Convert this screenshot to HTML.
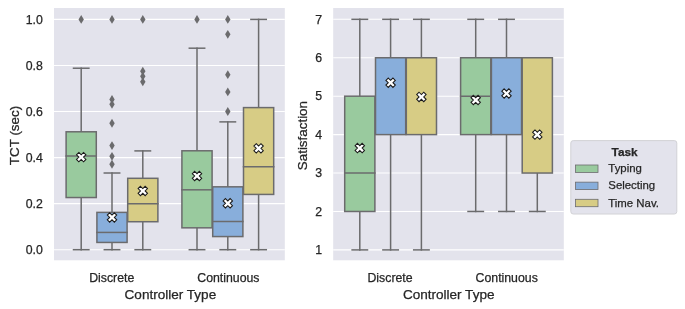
<!DOCTYPE html><html><head><meta charset="utf-8"><title>Boxplots</title><style>html,body{margin:0;padding:0;background:#fff}svg{display:block}svg text{font-family:"Liberation Sans",sans-serif;stroke:#262626;stroke-width:0.25px}</style></head><body><svg width="685" height="309" viewBox="0 0 685 309" font-size="12.3" fill="#262626">
<rect width="685" height="309" fill="#fff"/>
<rect x="54" y="8.0" width="230.8" height="252.3" fill="#E3E3EC"/>
<line x1="54" x2="284.8" y1="249.70" y2="249.70" stroke="#fff" stroke-width="1.1"/>
<text x="42.8" y="254.00" text-anchor="end">0.0</text>
<line x1="54" x2="284.8" y1="203.64" y2="203.64" stroke="#fff" stroke-width="1.1"/>
<text x="42.8" y="207.94" text-anchor="end">0.2</text>
<line x1="54" x2="284.8" y1="157.58" y2="157.58" stroke="#fff" stroke-width="1.1"/>
<text x="42.8" y="161.88" text-anchor="end">0.4</text>
<line x1="54" x2="284.8" y1="111.52" y2="111.52" stroke="#fff" stroke-width="1.1"/>
<text x="42.8" y="115.82" text-anchor="end">0.6</text>
<line x1="54" x2="284.8" y1="65.46" y2="65.46" stroke="#fff" stroke-width="1.1"/>
<text x="42.8" y="69.76" text-anchor="end">0.8</text>
<line x1="54" x2="284.8" y1="19.40" y2="19.40" stroke="#fff" stroke-width="1.1"/>
<text x="42.8" y="23.70" text-anchor="end">1.0</text>
<g stroke="#6b6b6d" stroke-width="1.5" fill="none" stroke-linecap="square">
<line x1="81.20" x2="81.20" y1="131.79" y2="68.22"/>
<line x1="73.50" x2="88.90" y1="68.22" y2="68.22"/>
<line x1="81.20" x2="81.20" y1="197.54" y2="249.70"/>
<line x1="73.50" x2="88.90" y1="249.70" y2="249.70"/>
<rect x="66.11" y="131.79" width="30.18" height="65.75" fill="#99CA9E"/>
<line x1="66.11" x2="96.29" y1="155.97" y2="155.97"/>
</g>
<path d="M81.20 15.00L83.90 19.40L81.20 23.80L78.50 19.40Z" fill="#6b6b6d"/>
<polygon points="78.85,152.42 81.20,154.77 83.55,152.42 85.90,154.77 83.55,157.12 85.90,159.47 83.55,161.82 81.20,159.47 78.85,161.82 76.50,159.47 78.85,157.12 76.50,154.77" fill="#fff" stroke="#1a1a1a" stroke-width="1.05" stroke-linejoin="miter"/>
<g stroke="#6b6b6d" stroke-width="1.5" fill="none" stroke-linecap="square">
<line x1="112.00" x2="112.00" y1="212.39" y2="173.01"/>
<line x1="104.30" x2="119.70" y1="173.01" y2="173.01"/>
<line x1="112.00" x2="112.00" y1="242.45" y2="249.70"/>
<line x1="104.30" x2="119.70" y1="249.70" y2="249.70"/>
<rect x="96.91" y="212.39" width="30.18" height="30.05" fill="#88AEDB"/>
<line x1="96.91" x2="127.09" y1="232.43" y2="232.43"/>
</g>
<path d="M112.00 15.00L114.70 19.40L112.00 23.80L109.30 19.40Z" fill="#6b6b6d"/>
<path d="M112.00 95.01L114.70 99.41L112.00 103.81L109.30 99.41Z" fill="#6b6b6d"/>
<path d="M112.00 99.91L114.70 104.31L112.00 108.71L109.30 104.31Z" fill="#6b6b6d"/>
<path d="M112.00 118.87L114.70 123.27L112.00 127.67L109.30 123.27Z" fill="#6b6b6d"/>
<path d="M112.00 141.20L114.70 145.60L112.00 150.00L109.30 145.60Z" fill="#6b6b6d"/>
<path d="M112.00 151.91L114.70 156.31L112.00 160.71L109.30 156.31Z" fill="#6b6b6d"/>
<path d="M112.00 159.86L114.70 164.26L112.00 168.66L109.30 164.26Z" fill="#6b6b6d"/>
<polygon points="109.65,212.76 112.00,215.11 114.35,212.76 116.70,215.11 114.35,217.46 116.70,219.81 114.35,222.16 112.00,219.81 109.65,222.16 107.30,219.81 109.65,217.46 107.30,215.11" fill="#fff" stroke="#1a1a1a" stroke-width="1.05" stroke-linejoin="miter"/>
<g stroke="#6b6b6d" stroke-width="1.5" fill="none" stroke-linecap="square">
<line x1="142.80" x2="142.80" y1="178.31" y2="150.90"/>
<line x1="135.10" x2="150.50" y1="150.90" y2="150.90"/>
<line x1="142.80" x2="142.80" y1="221.72" y2="249.70"/>
<line x1="135.10" x2="150.50" y1="249.70" y2="249.70"/>
<rect x="127.71" y="178.31" width="30.18" height="43.41" fill="#D7CC85"/>
<line x1="127.71" x2="157.89" y1="203.64" y2="203.64"/>
</g>
<path d="M142.80 15.00L145.50 19.40L142.80 23.80L140.10 19.40Z" fill="#6b6b6d"/>
<path d="M142.80 66.82L145.50 71.22L142.80 75.62L140.10 71.22Z" fill="#6b6b6d"/>
<path d="M142.80 71.88L145.50 76.28L142.80 80.68L140.10 76.28Z" fill="#6b6b6d"/>
<path d="M142.80 77.41L145.50 81.81L142.80 86.21L140.10 81.81Z" fill="#6b6b6d"/>
<polygon points="140.45,186.27 142.80,188.62 145.15,186.27 147.50,188.62 145.15,190.97 147.50,193.32 145.15,195.67 142.80,193.32 140.45,195.67 138.10,193.32 140.45,190.97 138.10,188.62" fill="#fff" stroke="#1a1a1a" stroke-width="1.05" stroke-linejoin="miter"/>
<g stroke="#6b6b6d" stroke-width="1.5" fill="none" stroke-linecap="square">
<line x1="197.00" x2="197.00" y1="150.79" y2="48.19"/>
<line x1="189.30" x2="204.70" y1="48.19" y2="48.19"/>
<line x1="197.00" x2="197.00" y1="227.82" y2="249.70"/>
<line x1="189.30" x2="204.70" y1="249.70" y2="249.70"/>
<rect x="181.91" y="150.79" width="30.18" height="77.04" fill="#99CA9E"/>
<line x1="181.91" x2="212.09" y1="189.82" y2="189.82"/>
</g>
<path d="M197.00 15.00L199.70 19.40L197.00 23.80L194.30 19.40Z" fill="#6b6b6d"/>
<polygon points="194.65,171.30 197.00,173.65 199.35,171.30 201.70,173.65 199.35,176.00 201.70,178.35 199.35,180.70 197.00,178.35 194.65,180.70 192.30,178.35 194.65,176.00 192.30,173.65" fill="#fff" stroke="#1a1a1a" stroke-width="1.05" stroke-linejoin="miter"/>
<g stroke="#6b6b6d" stroke-width="1.5" fill="none" stroke-linecap="square">
<line x1="227.80" x2="227.80" y1="186.83" y2="121.88"/>
<line x1="220.10" x2="235.50" y1="121.88" y2="121.88"/>
<line x1="227.80" x2="227.80" y1="236.57" y2="249.70"/>
<line x1="220.10" x2="235.50" y1="249.70" y2="249.70"/>
<rect x="212.71" y="186.83" width="30.18" height="49.74" fill="#88AEDB"/>
<line x1="212.71" x2="242.89" y1="221.60" y2="221.60"/>
</g>
<path d="M227.80 15.00L230.50 19.40L227.80 23.80L225.10 19.40Z" fill="#6b6b6d"/>
<path d="M227.80 29.97L230.50 34.37L227.80 38.77L225.10 34.37Z" fill="#6b6b6d"/>
<path d="M227.80 70.27L230.50 74.67L227.80 79.07L225.10 74.67Z" fill="#6b6b6d"/>
<path d="M227.80 87.54L230.50 91.94L227.80 96.34L225.10 91.94Z" fill="#6b6b6d"/>
<path d="M227.80 107.12L230.50 111.52L227.80 115.92L225.10 111.52Z" fill="#6b6b6d"/>
<polygon points="225.45,198.59 227.80,200.94 230.15,198.59 232.50,200.94 230.15,203.29 232.50,205.64 230.15,207.99 227.80,205.64 225.45,207.99 223.10,205.64 225.45,203.29 223.10,200.94" fill="#fff" stroke="#1a1a1a" stroke-width="1.05" stroke-linejoin="miter"/>
<g stroke="#6b6b6d" stroke-width="1.5" fill="none" stroke-linecap="square">
<line x1="258.60" x2="258.60" y1="107.60" y2="19.40"/>
<line x1="250.90" x2="266.30" y1="19.40" y2="19.40"/>
<line x1="258.60" x2="258.60" y1="194.43" y2="249.70"/>
<line x1="250.90" x2="266.30" y1="249.70" y2="249.70"/>
<rect x="243.51" y="107.60" width="30.18" height="86.82" fill="#D7CC85"/>
<line x1="243.51" x2="273.69" y1="166.79" y2="166.79"/>
</g>
<polygon points="256.25,143.67 258.60,146.02 260.95,143.67 263.30,146.02 260.95,148.37 263.30,150.72 260.95,153.07 258.60,150.72 256.25,153.07 253.90,150.72 256.25,148.37 253.90,146.02" fill="#fff" stroke="#1a1a1a" stroke-width="1.05" stroke-linejoin="miter"/>
<rect x="333.2" y="8.0" width="230.59999999999997" height="252.3" fill="#E3E3EC"/>
<line x1="333.2" x2="563.8" y1="249.90" y2="249.90" stroke="#fff" stroke-width="1.1"/>
<text x="322.0" y="254.20" text-anchor="end">1</text>
<line x1="333.2" x2="563.8" y1="211.47" y2="211.47" stroke="#fff" stroke-width="1.1"/>
<text x="322.0" y="215.77" text-anchor="end">2</text>
<line x1="333.2" x2="563.8" y1="173.04" y2="173.04" stroke="#fff" stroke-width="1.1"/>
<text x="322.0" y="177.34" text-anchor="end">3</text>
<line x1="333.2" x2="563.8" y1="134.61" y2="134.61" stroke="#fff" stroke-width="1.1"/>
<text x="322.0" y="138.91" text-anchor="end">4</text>
<line x1="333.2" x2="563.8" y1="96.18" y2="96.18" stroke="#fff" stroke-width="1.1"/>
<text x="322.0" y="100.48" text-anchor="end">5</text>
<line x1="333.2" x2="563.8" y1="57.75" y2="57.75" stroke="#fff" stroke-width="1.1"/>
<text x="322.0" y="62.05" text-anchor="end">6</text>
<line x1="333.2" x2="563.8" y1="19.32" y2="19.32" stroke="#fff" stroke-width="1.1"/>
<text x="322.0" y="23.62" text-anchor="end">7</text>
<g stroke="#6b6b6d" stroke-width="1.5" fill="none" stroke-linecap="square">
<line x1="359.80" x2="359.80" y1="96.18" y2="19.32"/>
<line x1="352.10" x2="367.50" y1="19.32" y2="19.32"/>
<line x1="359.80" x2="359.80" y1="211.47" y2="249.90"/>
<line x1="352.10" x2="367.50" y1="249.90" y2="249.90"/>
<rect x="344.71" y="96.18" width="30.18" height="115.29" fill="#99CA9E"/>
<line x1="344.71" x2="374.89" y1="173.04" y2="173.04"/>
</g>
<polygon points="357.45,143.36 359.80,145.71 362.15,143.36 364.50,145.71 362.15,148.06 364.50,150.41 362.15,152.76 359.80,150.41 357.45,152.76 355.10,150.41 357.45,148.06 355.10,145.71" fill="#fff" stroke="#1a1a1a" stroke-width="1.05" stroke-linejoin="miter"/>
<g stroke="#6b6b6d" stroke-width="1.5" fill="none" stroke-linecap="square">
<line x1="390.60" x2="390.60" y1="57.75" y2="19.32"/>
<line x1="382.90" x2="398.30" y1="19.32" y2="19.32"/>
<line x1="390.60" x2="390.60" y1="134.61" y2="249.90"/>
<line x1="382.90" x2="398.30" y1="249.90" y2="249.90"/>
<rect x="375.51" y="57.75" width="30.18" height="76.86" fill="#88AEDB"/>
</g>
<polygon points="388.25,78.03 390.60,80.38 392.95,78.03 395.30,80.38 392.95,82.73 395.30,85.08 392.95,87.43 390.60,85.08 388.25,87.43 385.90,85.08 388.25,82.73 385.90,80.38" fill="#fff" stroke="#1a1a1a" stroke-width="1.05" stroke-linejoin="miter"/>
<g stroke="#6b6b6d" stroke-width="1.5" fill="none" stroke-linecap="square">
<line x1="421.40" x2="421.40" y1="57.75" y2="19.32"/>
<line x1="413.70" x2="429.10" y1="19.32" y2="19.32"/>
<line x1="421.40" x2="421.40" y1="134.61" y2="249.90"/>
<line x1="413.70" x2="429.10" y1="249.90" y2="249.90"/>
<rect x="406.31" y="57.75" width="30.18" height="76.86" fill="#D7CC85"/>
</g>
<polygon points="419.05,92.25 421.40,94.60 423.75,92.25 426.10,94.60 423.75,96.95 426.10,99.30 423.75,101.65 421.40,99.30 419.05,101.65 416.70,99.30 419.05,96.95 416.70,94.60" fill="#fff" stroke="#1a1a1a" stroke-width="1.05" stroke-linejoin="miter"/>
<g stroke="#6b6b6d" stroke-width="1.5" fill="none" stroke-linecap="square">
<line x1="475.70" x2="475.70" y1="57.75" y2="19.32"/>
<line x1="468.00" x2="483.40" y1="19.32" y2="19.32"/>
<line x1="475.70" x2="475.70" y1="134.61" y2="211.47"/>
<line x1="468.00" x2="483.40" y1="211.47" y2="211.47"/>
<rect x="460.61" y="57.75" width="30.18" height="76.86" fill="#99CA9E"/>
<line x1="460.61" x2="490.79" y1="96.18" y2="96.18"/>
</g>
<polygon points="473.35,95.32 475.70,97.67 478.05,95.32 480.40,97.67 478.05,100.02 480.40,102.37 478.05,104.72 475.70,102.37 473.35,104.72 471.00,102.37 473.35,100.02 471.00,97.67" fill="#fff" stroke="#1a1a1a" stroke-width="1.05" stroke-linejoin="miter"/>
<g stroke="#6b6b6d" stroke-width="1.5" fill="none" stroke-linecap="square">
<line x1="506.50" x2="506.50" y1="57.75" y2="19.32"/>
<line x1="498.80" x2="514.20" y1="19.32" y2="19.32"/>
<line x1="506.50" x2="506.50" y1="134.61" y2="211.47"/>
<line x1="498.80" x2="514.20" y1="211.47" y2="211.47"/>
<rect x="491.41" y="57.75" width="30.18" height="76.86" fill="#88AEDB"/>
</g>
<polygon points="504.15,88.79 506.50,91.14 508.85,88.79 511.20,91.14 508.85,93.49 511.20,95.84 508.85,98.19 506.50,95.84 504.15,98.19 501.80,95.84 504.15,93.49 501.80,91.14" fill="#fff" stroke="#1a1a1a" stroke-width="1.05" stroke-linejoin="miter"/>
<g stroke="#6b6b6d" stroke-width="1.5" fill="none" stroke-linecap="square">
<line x1="537.30" x2="537.30" y1="173.04" y2="211.47"/>
<line x1="529.60" x2="545.00" y1="211.47" y2="211.47"/>
<rect x="522.21" y="57.75" width="30.18" height="115.29" fill="#D7CC85"/>
</g>
<polygon points="534.95,129.91 537.30,132.26 539.65,129.91 542.00,132.26 539.65,134.61 542.00,136.96 539.65,139.31 537.30,136.96 534.95,139.31 532.60,136.96 534.95,134.61 532.60,132.26" fill="#fff" stroke="#1a1a1a" stroke-width="1.05" stroke-linejoin="miter"/>
<text x="111.75" y="281.5" text-anchor="middle">Discrete</text>
<text x="228.40" y="281.5" text-anchor="middle">Continuous</text>
<text x="170.40" y="299.1" text-anchor="middle" font-size="13.55">Controller Type</text>
<text x="390.05" y="281.5" text-anchor="middle">Discrete</text>
<text x="506.70" y="281.5" text-anchor="middle">Continuous</text>
<text x="448.70" y="299.1" text-anchor="middle" font-size="13.55">Controller Type</text>
<text transform="translate(18.5 135.5) rotate(-90)" text-anchor="middle" font-size="13.4">TCT (sec)</text>
<text transform="translate(306.6 135.6) rotate(-90)" text-anchor="middle" font-size="13.4">Satisfaction</text>
<rect x="570.8" y="140.6" width="106" height="73.4" rx="2.5" fill="#E3E3EC" stroke="#d2d2d6" stroke-width="1"/>
<text x="624.6" y="155.6" text-anchor="middle" font-weight="bold" font-size="11.8">Task</text>
<rect x="575.6" y="165.00" width="22.4" height="7.4" fill="#99CA9E" stroke="#6b6b6d" stroke-width="0.8"/>
<text x="608.3" y="172.20" font-size="11.4">Typing</text>
<rect x="575.6" y="182.15" width="22.4" height="7.4" fill="#88AEDB" stroke="#6b6b6d" stroke-width="0.8"/>
<text x="608.3" y="189.35" font-size="11.4">Selecting</text>
<rect x="575.6" y="199.30" width="22.4" height="7.4" fill="#D7CC85" stroke="#6b6b6d" stroke-width="0.8"/>
<text x="608.3" y="206.50" font-size="11.4">Time Nav.</text>
</svg></body></html>
